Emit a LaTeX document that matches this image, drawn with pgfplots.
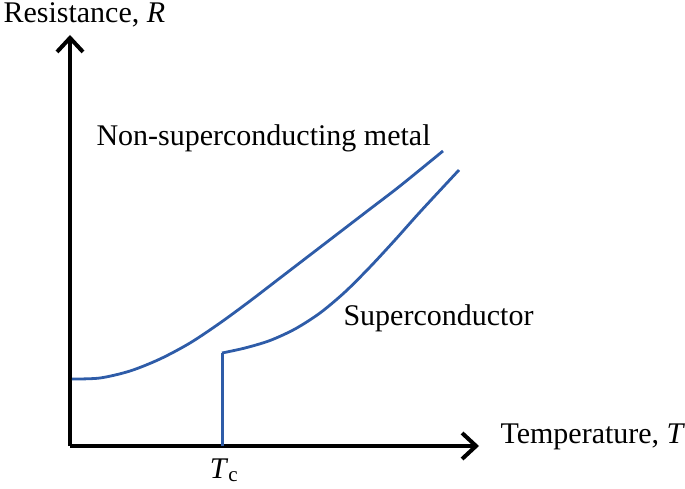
\documentclass[border=0pt]{standalone}
\usepackage{fontspec}
\setmainfont{Liberation Serif}
\usepackage{pgfplots}
\pgfplotsset{compat=1.18}
\usetikzlibrary{arrows.meta}
\definecolor{curveblue}{RGB}{46,92,168}

\begin{document}
\begin{tikzpicture}
\useasboundingbox (-70pt,-42pt) rectangle (615pt,446pt);
\begin{axis}[
  scale only axis,
  width=409pt, height=411pt,
  xmin=0, xmax=409,
  ymin=0, ymax=411,
  axis lines=left,
  axis line style={line width=4pt, -{Straight Barb[length=14pt,width=26pt,line width=4pt]}},
  xtick={152}, xticklabels={\textit{T}\textsubscript{c}},
  ytick=\empty,
  major tick length=0pt,
  tick label style={font=\fontsize{30}{34}\selectfont},
  xticklabel style={yshift=-9pt, xshift=2pt},
  clip=false,
]
% non-superconducting metal
\addplot[curveblue, line width=2.8pt, smooth, tension=0.5] coordinates {
(2,67) (30,68) (60,75) (90,87) (120,103) (150,123) (180,145)
(210,168) (240,191) (270,214) (300,237) (330,260) (373,295)
};
% superconductor
\addplot[curveblue, line width=3pt] coordinates {(152,0) (152,93)};
\addplot[curveblue, line width=2.8pt, smooth, tension=0.5] coordinates {
(152,93) (175,98) (200,105.5) (225,117) (250,133) (275,154) (300,179)
(325,206) (350,234) (389,276)
};
\node[anchor=base west, font=\fontsize{30}{34}\selectfont] at (axis cs:-70,423) {Resistance, \textit{R}};
\node[anchor=base west, font=\fontsize{30}{34}\selectfont] at (axis cs:427,3) {Temperature, \textit{T}};
\node[anchor=base west, font=\fontsize{30}{34}\selectfont] at (axis cs:23,301) {Non-superconducting metal};
\node[anchor=base west, font=\fontsize{30}{34}\selectfont] at (axis cs:270,121) {Superconductor};
\end{axis}
\end{tikzpicture}
\end{document}
